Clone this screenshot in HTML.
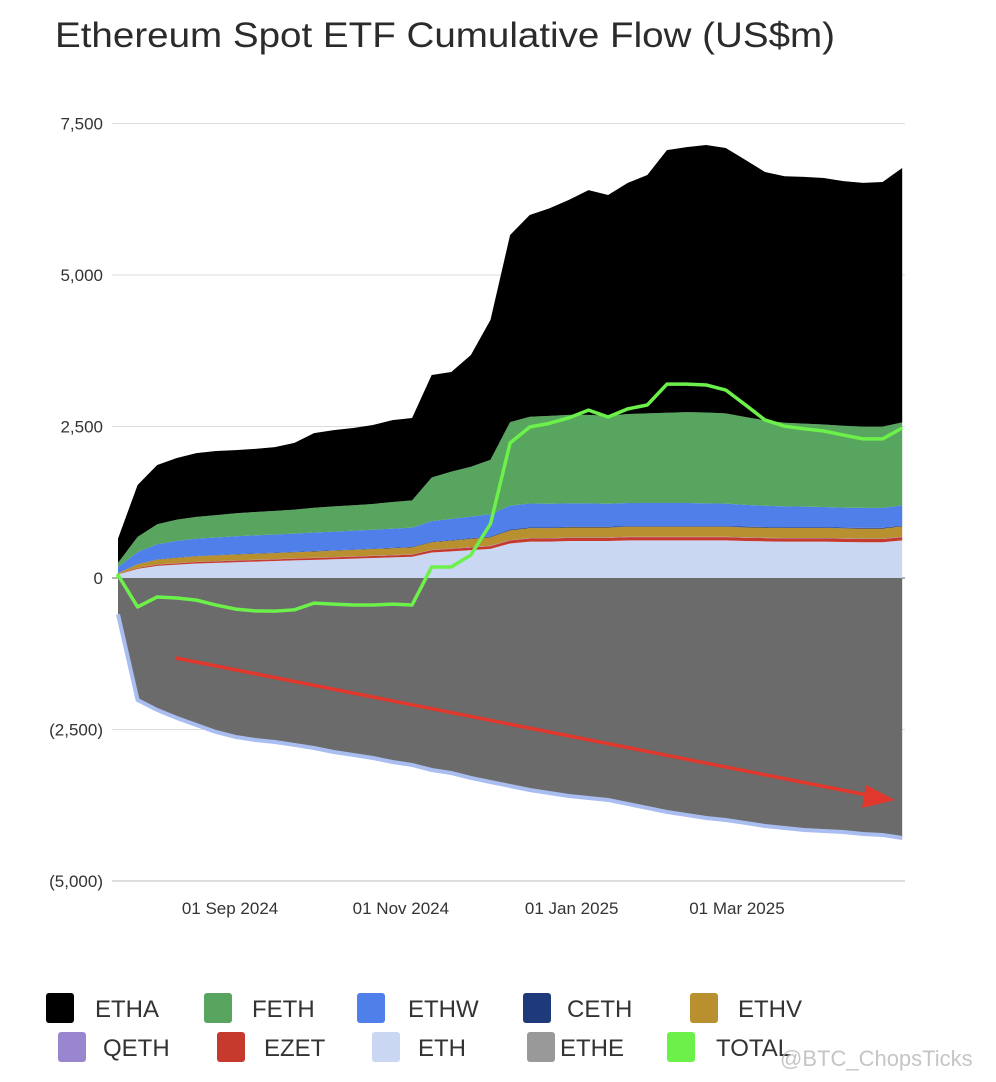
<!DOCTYPE html>
<html><head><meta charset="utf-8">
<style>
html,body{margin:0;padding:0;background:#fff;}
body{width:996px;height:1082px;overflow:hidden;position:relative;font-family:"Liberation Sans",sans-serif;}
svg{position:absolute;left:0;top:0;}
</style></head>
<body>
<svg id="chart" width="996" height="1082" viewBox="0 0 996 1082">
  <text x="55" y="47" font-size="35" textLength="780" lengthAdjust="spacingAndGlyphs" fill="#2b2b2b">Ethereum Spot ETF Cumulative Flow (US$m)</text>
  <g id="grid"></g>
  <g id="areas"></g>
  <g id="lines"></g>
  <g id="axes"></g>
  <line x1="176" y1="658" x2="872" y2="796" stroke="#e0382c" stroke-width="3.5"/>
  <polygon points="895,800 866,785 862,808" fill="#e0382c"/>
  <g id="legend"></g>
  <text x="780" y="1066" font-size="22" fill="#bbb" opacity="0.85">@BTC_ChopsTicks</text>
</svg>
<script>
const weeks = ["2024-07-23","2024-07-30","2024-08-06","2024-08-13","2024-08-20","2024-08-27","2024-09-03","2024-09-10","2024-09-17","2024-09-24","2024-10-01","2024-10-08","2024-10-15","2024-10-22","2024-10-29","2024-11-05","2024-11-12","2024-11-19","2024-11-26","2024-12-03","2024-12-10","2024-12-17","2024-12-24","2024-12-31","2025-01-07","2025-01-14","2025-01-21","2025-01-28","2025-02-04","2025-02-11","2025-02-18","2025-02-25","2025-03-04","2025-03-11","2025-03-18","2025-03-25","2025-04-01","2025-04-08","2025-04-15","2025-04-22","2025-04-29"];
const ETH  = [60,150,200,220,240,250,260,270,280,290,300,310,320,330,340,350,420,440,460,480,570,600,600,610,610,610,620,620,620,620,620,620,610,605,600,600,600,595,590,590,620];
const EZET = [5,15,20,22,24,25,26,27,28,29,30,31,32,33,34,35,40,42,44,46,50,52,52,53,53,53,54,54,54,54,54,54,54,54,54,54,54,54,54,54,55];
const QETH = [0,2,3,3,3,3,4,4,4,4,4,4,4,5,5,5,5,5,6,6,6,6,6,6,6,6,6,6,6,6,6,6,6,6,6,6,6,6,6,6,6];
const ETHV = [15,60,80,88,92,95,97,99,100,102,104,106,108,110,112,115,125,130,135,140,160,165,165,165,165,165,165,165,165,165,165,165,165,165,165,165,165,165,165,165,170];
const CETH = [0,2,4,5,5,5,6,6,6,6,7,7,7,7,8,8,9,9,10,10,12,12,12,12,12,12,12,12,12,12,12,12,12,12,12,12,12,12,12,12,12];
const ETHW = [100,200,250,275,285,290,295,298,300,302,305,308,310,312,315,318,340,350,360,370,395,395,390,385,385,380,380,380,380,380,375,370,360,350,345,340,335,330,330,330,335];
const FETH = [70,250,330,350,360,370,380,385,390,395,410,415,420,425,440,450,720,780,820,900,1380,1430,1450,1460,1460,1450,1470,1480,1490,1500,1500,1490,1450,1410,1380,1370,1360,1350,1340,1340,1370];
const ETHA = [400,856,978,1017,1051,1057,1042,1041,1052,1102,1230,1259,1274,1303,1351,1359,1691,1644,1845,2308,3087,3330,3425,3549,3709,3644,3813,3933,4333,4373,4413,4378,4243,4098,4068,4073,4068,4038,4023,4038,4197];
const ETHE = [-600,-2013,-2178,-2310,-2425,-2541,-2623,-2673,-2706,-2755,-2805,-2871,-2920,-2970,-3036,-3085,-3168,-3218,-3300,-3366,-3432,-3498,-3548,-3597,-3630,-3663,-3729,-3795,-3861,-3910,-3960,-3993,-4042,-4092,-4125,-4158,-4174,-4191,-4224,-4240,-4290];
const yTicks = [7500,5000,2500,0,-2500,-5000];
const yTickLabels = ["7,500","5,000","2,500","0","(2,500)","(5,000)"];
const xTickDates = ["2024-09-01","2024-11-01","2025-01-01","2025-03-01"];
const xTickLabels = ["01 Sep 2024","01 Nov 2024","01 Jan 2025","01 Mar 2025"];

const NS="http://www.w3.org/2000/svg";
const X0=118, X1=905, Y0=578, PX_PER=151.5/2500;
const t0=Date.parse(weeks[0]), tEnd=Date.parse("2025-04-30");
function xs(d){return X0+(Date.parse(d)-t0)/(tEnd-t0)*(X1-X0);}
function ys(v){return Y0-v*PX_PER;}
function mk(tag,attrs,parent){const e=document.createElementNS(NS,tag);for(const k in attrs)e.setAttribute(k,attrs[k]);parent.appendChild(e);return e;}
const grid=document.getElementById('grid'),areas=document.getElementById('areas'),lines=document.getElementById('lines'),axes=document.getElementById('axes'),legend=document.getElementById('legend');

yTicks.forEach((v,i)=>{
  const y=ys(v);
  const l=mk('line',{x1:112,x2:X1,y1:y,y2:y,stroke:v===0?'#999':(v===-5000?'#bbb':'#ddd'),'stroke-width':v===0?1.5:1},grid);
  
  
  const t=mk('text',{x:103,y:y+6,'text-anchor':'end','font-size':17,fill:'#333'},axes);
  t.textContent=yTickLabels[i];
  
  
});
xTickDates.forEach((d,i)=>{
  const t=mk('text',{x:xs(d),y:914,'text-anchor':'middle','font-size':17,fill:'#333'},axes);
  t.textContent=xTickLabels[i];
  
  
});

const stack=[["ETH",ETH,"#c9d7f2"],["EZET",EZET,"#c63a2e"],["QETH",QETH,"#9a86d0"],["ETHV",ETHV,"#b8902f"],["CETH",CETH,"#1f3a7a"],["ETHW",ETHW,"#4f7fe8"],["FETH",FETH,"#57a55e"],["ETHA",ETHA,"#000000"]];
let base=weeks.map(()=>0);
stack.forEach(([name,vals,col])=>{
  const top=base.map((b,i)=>b+vals[i]);
  const pts=weeks.map((d,i)=>xs(d)+','+ys(top[i]));
  const bpts=weeks.map((d,i)=>xs(d)+','+ys(base[i])).reverse();
  const p=mk('polygon',{points:pts.concat(bpts).join(' '),fill:col},areas);
  
  
  base=top;
});
const ethePts=weeks.map((d,i)=>xs(d)+','+ys(ETHE[i]));
const lastX=xs(weeks[weeks.length-1]);
const ethe=mk('polygon',{points:[X0+','+Y0].concat(ethePts,[lastX+','+Y0]).join(' '),fill:'#6b6b6b'},areas);


const etheEdge=mk('polyline',{points:ethePts.join(' '),fill:'none',stroke:'#a9bdf0','stroke-width':4},areas);



const total=weeks.map((d,i)=>stack.reduce((s,st)=>s+st[1][i],0)+ETHE[i]);
const tl=mk('polyline',{points:[X0+','+Y0].concat(weeks.map((d,i)=>xs(d)+','+ys(total[i]))).join(' '),fill:'none',stroke:'#6cf04a','stroke-width':3.5,'stroke-linejoin':'round'},lines);



const leg=[["ETHA","#000",46,95,1008],["FETH","#57a55e",204,252,1008],["ETHW","#4f7fe8",357,408,1008],["CETH","#1f3a7a",523,567,1008],["ETHV","#b8902f",690,738,1008],
["QETH","#9a86d0",58,103,1047],["EZET","#c63a2e",217,264,1047],["ETH","#c9d7f2",372,418,1047],["ETHE","#999",527,560,1047],["TOTAL","#6cf04a",667,716,1047]];
leg.forEach(([n,c,sx,tx,cy])=>{
  const g=mk('g',{},legend);
  
  
  mk('rect',{x:sx,y:cy-15,width:28,height:30,rx:3,fill:c},g);
  const t=mk('text',{x:tx,y:cy+9,'font-size':24,fill:'#333'},g);
  t.textContent=n;
});
</script>
</body></html>
